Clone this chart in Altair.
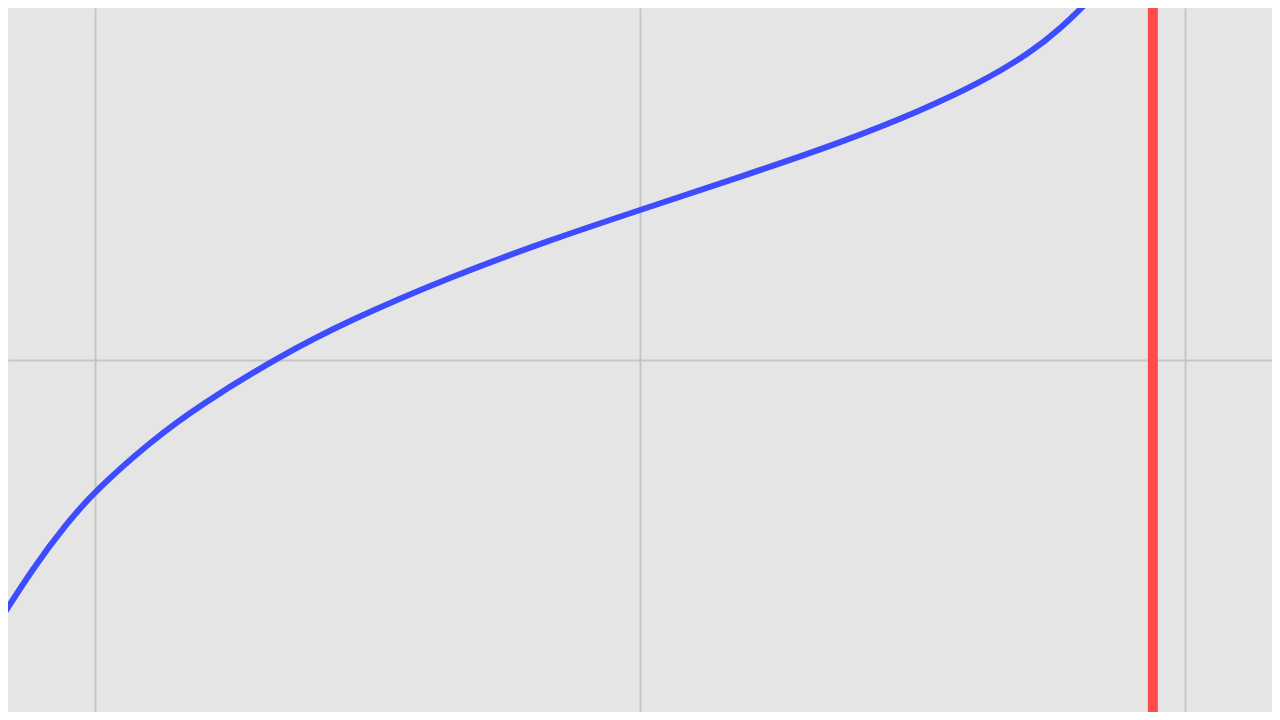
import altair as alt
import pandas as pd

# Curve points (x, y in grid units)
curve_x = [-1.1743, -1.1138, -1.0514, -1.0, -0.8991, -0.8073, -0.6606, -0.5321,
           -0.3486, -0.1651, 0.0, 0.1835, 0.3670, 0.5138, 0.6239, 0.7156,
           0.7706, 0.8257, 0.8624]
curve_y = [-0.4771, -0.3817, -0.2991, -0.2404, -0.1505, -0.0826, 0.0073, 0.0734,
           0.1523, 0.2202, 0.2752, 0.3358, 0.3982, 0.4569, 0.5083, 0.5633,
           0.6073, 0.6606, 0.7046]
marker_x = [0.941]
x_grid = [-1, 0, 1]
y_grid = [0]

curve = pd.DataFrame({"x": curve_x, "y": curve_y})
marker = pd.DataFrame({"x": marker_x})

xs = alt.Scale(domain=[-1.1596, 1.1596], nice=False, zero=False)
ys = alt.Scale(domain=[-0.6459, 0.6459], nice=False, zero=False)

ax = dict(labels=False, ticks=False, domain=False, title=None,
          grid=True, gridColor="#c6c6c6", gridWidth=2)

line = alt.Chart(curve).mark_line(
    color="#3d4cff", strokeWidth=6, clip=True, interpolate="basis"
).encode(
    x=alt.X("x:Q", scale=xs, axis=alt.Axis(values=x_grid, **ax)),
    y=alt.Y("y:Q", scale=ys, axis=alt.Axis(values=y_grid, **ax)),
)

rule = alt.Chart(marker).mark_rule(color="#ff4b4b", strokeWidth=10).encode(
    x=alt.X("x:Q", scale=xs)
)

chart = (line + rule).properties(
    width=1264, height=704, padding=0,
    autosize=alt.AutoSizeParams(type="none"),
    background="#e5e5e5",
).configure_view(stroke=None, fill="#e5e5e5")

chart.save("out.html", embed_options={"renderer": "svg", "actions": False})
